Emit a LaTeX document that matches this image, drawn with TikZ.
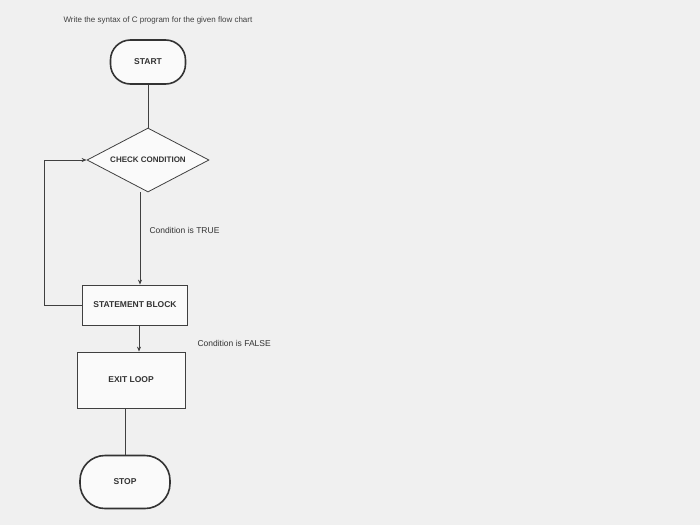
\documentclass[tikz,border=0pt]{standalone}
\usepackage{fontspec}
\setmainfont{Liberation Sans}
\usetikzlibrary{shapes.geometric,arrows.meta}
\begin{document}
\begin{tikzpicture}[x=1pt,y=-1pt,
  lbl/.style={font=\fontsize{8.5}{9}\selectfont\bfseries, text=black!80},
  stad/.style={draw=black!80, line width=1.6pt, rounded corners=20pt, fill=white!96!gray},
  boxn/.style={draw=black!75, line width=0.8pt, fill=white!96!gray},
  ln/.style={draw=black!75, line width=0.8pt},
  arr/.style={ln,-{Stealth[length=5pt,width=4pt]}}]
\useasboundingbox (0,0) rectangle (700,525);
\fill[gray!12] (0,0) rectangle (700,525);
\node[anchor=west, font=\fontsize{8}{9}\selectfont, text=black!75] (title) at (60,20) {Write the syntax of C program for the given flow chart};
\node[stad, minimum width=75pt, minimum height=44pt, lbl] (start) at (148,62) {START};
\node[diamond, boxn, aspect=1.9, minimum width=122pt, minimum height=64pt, inner sep=0pt, lbl, font=\fontsize{8}{9}\selectfont\bfseries] (cond) at (148,160) {CHECK CONDITION};
\node[boxn, minimum width=105pt, minimum height=40pt, lbl] (stmt) at (135,305) {STATEMENT BLOCK};
\node[boxn, minimum width=108pt, minimum height=56pt, lbl] (exit) at (131,380) {EXIT LOOP};
\node[stad, minimum width=90pt, minimum height=53pt, rounded corners=25pt, lbl] (stop) at (125,482) {STOP};
\node[anchor=west, font=\fontsize{8.5}{9}\selectfont, text=black!80] (t) at (146,230) {Condition is TRUE};
\node[anchor=west, font=\fontsize{8.5}{9}\selectfont, text=black!80] (f) at (194,343) {Condition is FALSE};
\draw[ln] (start.south) -- (cond.north);
\draw[arr] (cond.south) ++(-8,0) coordinate (cs) -- (cs |- stmt.north);
\coordinate (lp) at (44,305);
\draw[arr] (stmt.west) -- (lp) -- (lp |- cond.west) -- (cond.west);
\draw[arr] (stmt.south) ++(4,0) coordinate (ss) -- (ss |- exit.north);
\draw[ln] (exit.south) ++(-6,0) coordinate (es) -- (es |- stop.north);
\end{tikzpicture}
\end{document}
